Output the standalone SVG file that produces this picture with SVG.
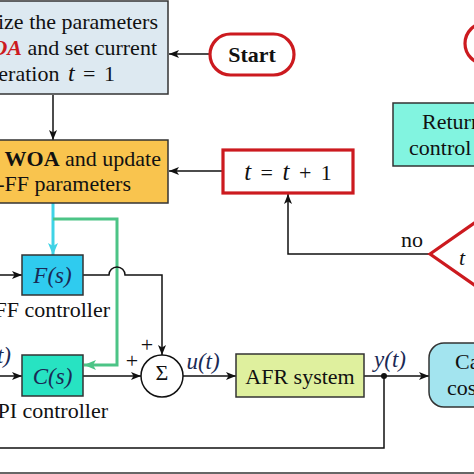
<svg xmlns="http://www.w3.org/2000/svg" width="474" height="474" viewBox="0 0 474 474">
<defs>
<style>
.t{font-family:"Liberation Serif","Times New Roman",serif;font-size:22px;fill:#111}
.m{font-family:"Liberation Serif","Times New Roman",serif;font-style:italic;font-size:23px;fill:#1a2a55}
.box{stroke:#333;stroke-width:1.5}
.red{fill:#fff;stroke:#cc1a1f;stroke-width:3.2}
.ln{fill:none;stroke:#111;stroke-width:1.5}
</style>
<marker id="ah" markerWidth="10" markerHeight="8" refX="10" refY="4" orient="auto" markerUnits="userSpaceOnUse"><path d="M0,0 L10,4 L0,8 L2.5,4 Z" fill="#111"/></marker>
<marker id="ahc" markerWidth="12" markerHeight="10" refX="12" refY="5" orient="auto" markerUnits="userSpaceOnUse"><path d="M0,0 L12,5 L0,10 L3,5 Z" fill="#3fd3e6"/></marker>
<marker id="ahg" markerWidth="12" markerHeight="10" refX="12" refY="5" orient="auto" markerUnits="userSpaceOnUse"><path d="M0,0 L12,5 L0,10 L3,5 Z" fill="#4cc486"/></marker>
</defs>
<rect width="474" height="474" fill="#fff"/>
<rect x="0" y="472" width="474" height="2" fill="#666"/>

<g id="connectors">
<line class="ln" x1="210" y1="54" x2="169" y2="54" marker-end="url(#ah)"/>
<line class="ln" x1="53" y1="95" x2="53" y2="140" marker-end="url(#ah)"/>
<line class="ln" x1="223" y1="171" x2="169" y2="171" marker-end="url(#ah)"/>
<path class="ln" d="M430,254 H288 V194" marker-end="url(#ah)"/>
<line x1="53" y1="203" x2="53" y2="255" stroke="#3fd3e6" stroke-width="3" marker-end="url(#ahc)"/>
<path d="M53,219 H117 V365 H84" fill="none" stroke="#4cc486" stroke-width="3" marker-end="url(#ahg)"/>
<line class="ln" x1="0" y1="275" x2="22" y2="275" marker-end="url(#ah)"/>
<line class="ln" x1="0" y1="376" x2="22" y2="376" marker-end="url(#ah)"/>
<path class="ln" d="M83,275 H109 A8,8 0 0 1 125,275 H162 V355" marker-end="url(#ah)"/>
<line class="ln" x1="83" y1="376" x2="141" y2="376" marker-end="url(#ah)"/>
<line class="ln" x1="183" y1="376" x2="236" y2="376" marker-end="url(#ah)"/>
<line class="ln" x1="364" y1="376" x2="429" y2="376" marker-end="url(#ah)"/>
<path class="ln" d="M384,376 V448 H0"/>
<circle cx="384" cy="376" r="3" fill="#111"/>
<text class="t" x="412" y="247" text-anchor="middle">no</text>
<text class="t" x="147" y="352" text-anchor="middle" font-size="24">+</text>
<text class="t" x="132" y="368" text-anchor="middle" font-size="24">+</text>
<text class="m" x="203" y="369" text-anchor="middle" fill="#111" font-size="25">u(t)</text>
<text class="m" x="390" y="367" text-anchor="middle" fill="#111" font-size="25">y(t)</text>
<text class="m" x="11" y="363" text-anchor="end" fill="#111" font-size="25">(t)</text>
</g>

<g id="init">
<rect class="box" x="-10" y="1" width="178" height="93" fill="#dde9f1"/>
<text class="t" x="158" y="29" text-anchor="end">ize the parameters</text>
<text class="t" x="157" y="55" text-anchor="end"><tspan fill="#cc1a1f" font-weight="bold" font-style="italic">OA</tspan> and set current</text>
<text class="t" x="115" y="81" text-anchor="end" word-spacing="3">eration <tspan font-style="italic" font-size="24">t</tspan> = 1</text>
</g>

<g id="start">
<rect class="red" x="210" y="34" width="84" height="41" rx="20.5"/>
<text class="t" x="252" y="62" text-anchor="middle" font-weight="bold">Start</text>
</g>

<g id="end">
<rect class="red" x="465" y="23" width="84" height="41" rx="20.5"/>
</g>

<g id="return">
<rect class="box" x="393" y="103" width="100" height="63" fill="#82f4e0"/>
<text class="t" x="422" y="129">Return</text>
<text class="t" x="409" y="155">control</text>
</g>

<g id="woa">
<rect class="box" x="-10" y="140" width="178" height="63" fill="#f9c44e"/>
<text class="t" x="161" y="166" text-anchor="end"><tspan font-weight="bold">WOA</tspan> and update</text>
<text class="t" x="131" y="191" text-anchor="end">-FF parameters</text>
</g>

<g id="tinc">
<rect class="red" x="223" y="150" width="130" height="43"/>
<text class="t" x="288" y="180" text-anchor="middle" font-size="23" word-spacing="4"><tspan font-style="italic" font-size="25">t</tspan> = <tspan font-style="italic" font-size="25">t</tspan> + 1</text>
</g>

<g id="decision">
<polygon points="430,254 530,184 630,254 530,324" fill="#fff" stroke="#cc1a1f" stroke-width="3.2"/>
<text class="t" x="462" y="265" text-anchor="middle" font-style="italic" font-size="24">t</text>
</g>

<g id="ff">
<rect class="box" x="22" y="255" width="61" height="40" fill="#2fcbef"/>
<text class="m" x="52.5" y="283" text-anchor="middle">F(s)</text>
<text class="t" x="110" y="317" text-anchor="end">FF controller</text>
</g>

<g id="pi">
<rect class="box" x="22" y="355" width="61" height="41" fill="#27e3c2"/>
<text class="m" x="52.5" y="384" text-anchor="middle">C(s)</text>
<text class="t" x="108" y="418" text-anchor="end">PI controller</text>
</g>

<g id="sum">
<circle cx="162" cy="376" r="21" fill="#fff" stroke="#111" stroke-width="1.5"/>
<text class="t" x="162" y="380" text-anchor="middle" font-size="11">Σ</text>
</g>

<g id="afr">
<rect class="box" x="236" y="354" width="128" height="43" fill="#dff09e"/>
<text class="t" x="300" y="384" text-anchor="middle">AFR system</text>
</g>

<g id="cost">
<rect class="box" x="429" y="343" width="80" height="64" rx="15" fill="#a3e4ef"/>
<text class="t" x="455" y="369">Ca</text>
<text class="t" x="447" y="395">cos</text>
</g>
</svg>
